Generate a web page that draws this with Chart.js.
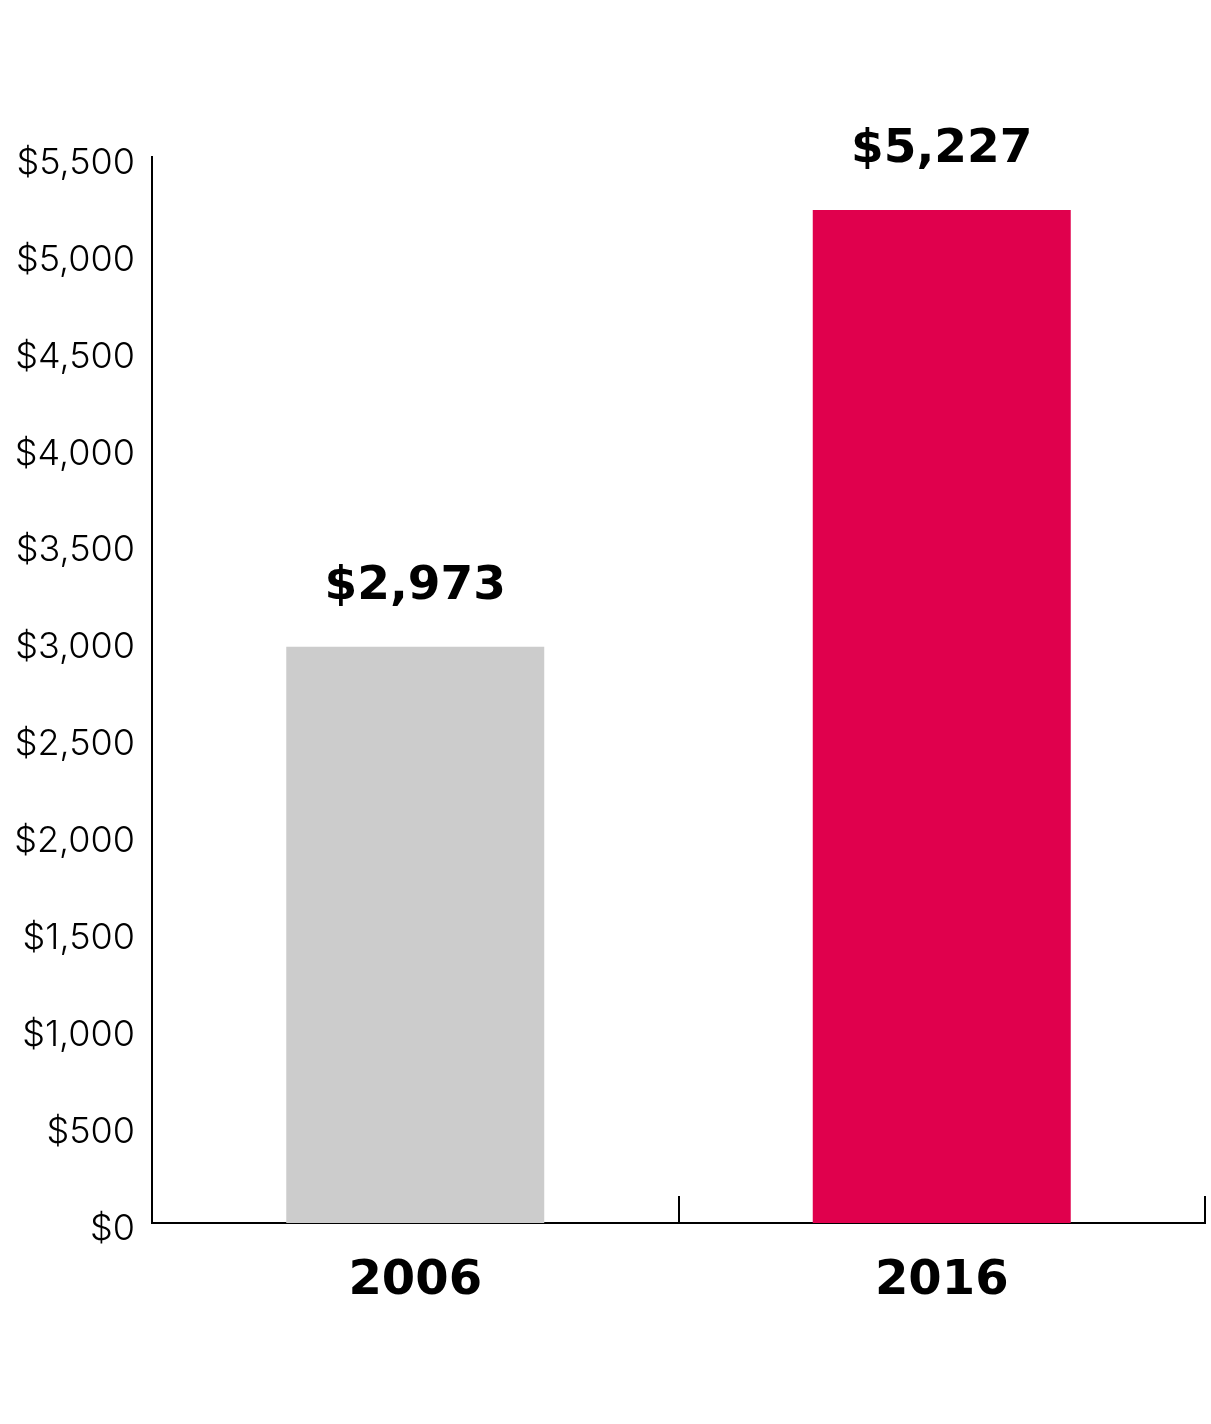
<!DOCTYPE html>
<html>
<head>
<meta charset="utf-8">
<script src="https://cdn.jsdelivr.net/npm/chart.js@4"></script>
<style>
  html, body { margin: 0; padding: 0; background: #ffffff; }
  #wrap { width: 1211px; height: 1424px; }
</style>
</head>
<body>
<div id="wrap"><canvas id="myChart1" width="1211" height="1424"></canvas></div>
<script>
// chart data
var years = ["2006", "2016"];
var spending = [2973, 5227];
var value_labels = ["$2,973", "$5,227"];
var bar_colors = ["#cccccc", "#e0004d"];
var y_max = 5500;
var y_step = 500;

function formatDollar(v) {
    return "$" + v.toLocaleString("en-US");
}

// labels above bars
var valueLabels = {
    id: "valueLabels",
    afterDatasetsDraw: function (chart) {
        var ctx = chart.ctx;
        var meta = chart.getDatasetMeta(0);
        ctx.save();
        ctx.fillStyle = "#000000";
        ctx.font = "bold 47px 'DejaVu Sans', sans-serif";
        ctx.textAlign = "center";
        ctx.textBaseline = "middle";
        meta.data.forEach(function (bar, i) {
            ctx.fillText(value_labels[i], bar.x, bar.y - 60);
        });
        ctx.restore();
    }
};

// small upward ticks between the categories
var categoryTicks = {
    id: "categoryTicks",
    afterDraw: function (chart) {
        var ctx = chart.ctx;
        var xs = chart.scales.x;
        var bottom = chart.chartArea.bottom;
        ctx.save();
        ctx.strokeStyle = "#000000";
        ctx.lineWidth = 2;
        for (let i = 0; i <= years.length; i++) {
            let x = Math.round(xs.getPixelForValue(i - 0.5));
            ctx.beginPath();
            ctx.moveTo(x, bottom);
            ctx.lineTo(x, bottom - 27);
            ctx.stroke();
        }
        ctx.restore();
    }
};

const ctx = document.getElementById("myChart1").getContext("2d");
var myChart = new Chart(ctx, {
    type: "bar",
    data: {
        labels: years,
        datasets: [
            {
                data: spending,
                backgroundColor: bar_colors,
                borderWidth: 0,
                categoryPercentage: 1,
                barPercentage: 0.49
            }
        ]
    },
    options: {
        responsive: false,
        animation: false,
        layout: {
            padding: { top: 157, bottom: 115, left: 0, right: 6 }
        },
        plugins: {
            legend: { display: false },
            tooltip: { enabled: false }
        },
        scales: {
            x: {
                offset: true,
                grid: { display: false, offset: true },
                border: { display: true, color: "#000000", width: 2 },
                ticks: {
                    color: "#000000",
                    padding: 22,
                    font: { family: "'DejaVu Sans', sans-serif", size: 48, weight: "bold" }
                },
                afterFit: function (scale) { scale.height = 86; }
            },
            y: {
                min: 0,
                max: y_max,
                grid: { display: false },
                border: { display: true, color: "#000000", width: 2 },
                ticks: {
                    stepSize: y_step,
                    color: "#000000",
                    padding: 9,
                    labelOffset: 6,
                    font: { family: "Inter, 'Open Sans', sans-serif", size: 36, weight: "300" },
                    callback: function (v) { return formatDollar(v); }
                },
                afterFit: function (scale) { scale.width = 152; }
            }
        }
    },
    plugins: [valueLabels, categoryTicks]
});
</script>
</body>
</html>
